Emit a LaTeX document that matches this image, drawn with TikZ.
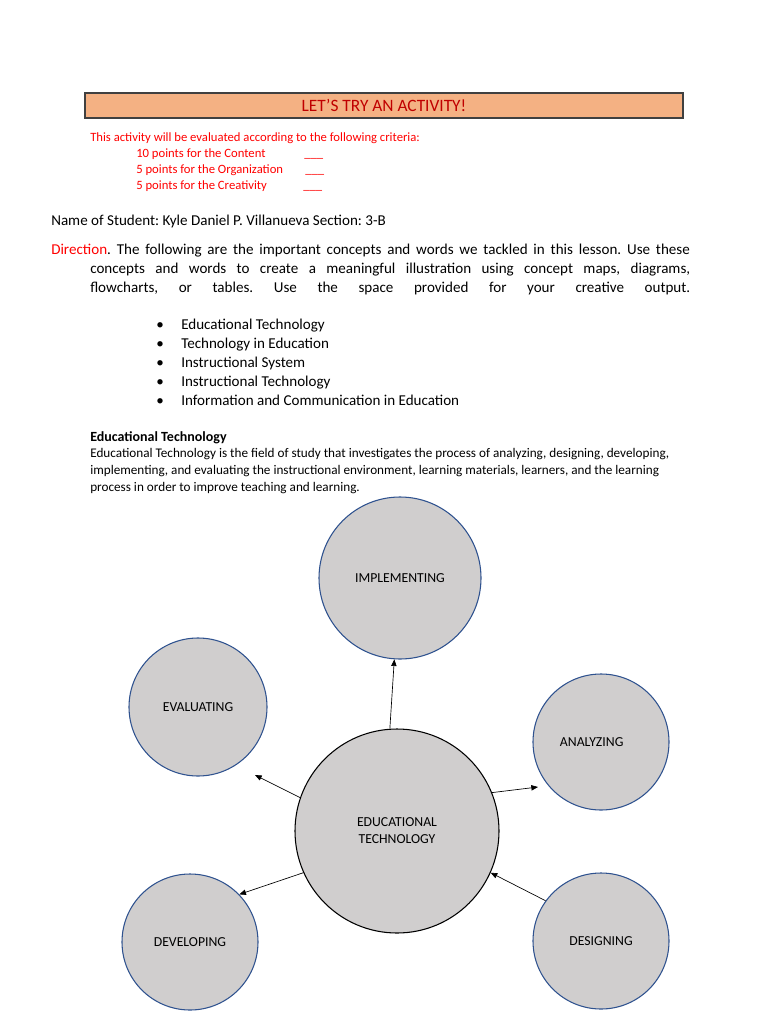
\documentclass[tikz,border=0pt]{standalone}
\usepackage{fontspec}
\setmainfont{Carlito}
\usetikzlibrary{arrows.meta}
\definecolor{bannerfill}{HTML}{F4B183}
\definecolor{bannerred}{HTML}{C00000}
\definecolor{critred}{HTML}{FF0000}
\definecolor{bubblefill}{HTML}{D0CECE}
\definecolor{bubbleline}{HTML}{2F528F}
\frenchspacing

\begin{document}
\begin{tikzpicture}[x=0.75pt,y=-0.75pt,
    bubble/.style={circle,draw=bubbleline,line width=0.8pt,fill=bubblefill,inner sep=0pt,align=center,font=\fontsize{10.3}{12.75}\selectfont},
    hub/.style={bubble,draw=black},
    crit/.style={anchor=base west,inner sep=0pt,text=critred,font=\fontsize{9.5}{11}\selectfont},
    body/.style={anchor=base west,inner sep=0pt,font=\fontsize{11.3}{13}\selectfont},
    para/.style={anchor=base west,inner sep=0pt,font=\fontsize{9.9}{11}\selectfont},
    link/.style={-{Triangle[length=5pt,width=4pt]},line width=0.5pt}]
    \useasboundingbox[fill=white] (0,0) rectangle (768,1024);
    % Banner
    \node[draw=black!75,line width=0.8pt,fill=bannerfill,minimum width=448.5pt,minimum height=18.75pt,inner sep=0pt] (banner) at (384,105.5) {};
    \node[text=bannerred,font=\fontsize{13}{15}\selectfont] (title) at (banner.center) {LET’S TRY AN ACTIVITY!};
    % Criteria
    \node[crit] (crit0) at (90,141) {This activity will be evaluated according to the following criteria:};
    \node[crit] (crit1) at (136,157) {10 points for the Content};
    \node[crit] (crit2) at (136,173) {5 points for the Organization};
    \node[crit] (crit3) at (136,189) {5 points for the Creativity};
    \node[crit] (blank1) at (304,157) {\_\_\_};
    \node[crit] (blank2) at (305,173) {\_\_\_};
    \node[crit] (blank3) at (303,189) {\_\_\_};
    % Student and direction
    \node[body] (student) at (51,225) {Name of Student: Kyle Daniel P. Villanueva Section: 3-B};
    \node[body] (dir1) at (51,254) {\hbox to 479pt{\textcolor{critred}{Direction}. The following are the important concepts and words we tackled in this lesson. Use these}};
    \node[body] (dir2) at (90,273) {\hbox to 450pt{concepts and words to create a meaningful illustration using concept maps, diagrams,}};
    \node[body] (dir3) at (90,292) {\hbox to 450pt{flowcharts, or tables. Use the space provided for your creative output.}};
    % Bullets
    \foreach \y/\txt [count=\i] in {329/Educational Technology,348/Technology in Education,367/Instructional System,386/Instructional Technology,405/Information and Communication in Education}{
        \node[body,anchor=base] (dot\i) at (160,\y) {\textbullet};
        \node[body] (item\i) at (181,\y) {\txt};
    }
    % Definition
    \node[para,font=\fontsize{10.5}{12}\selectfont\bfseries] (defhead) at (90,441) {Educational Technology};
    \node[para] (def1) at (90,457) {Educational Technology is the field of study that investigates the process of analyzing, designing, developing,};
    \node[para] (def2) at (90,474) {implementing, and evaluating the instructional environment, learning materials, learners, and the learning};
    \node[para] (def3) at (90,491) {process in order to improve teaching and learning.};
    % Nodes
    \node[bubble,minimum size=121.5pt] (impl) at (400,578) {IMPLEMENTING};
    \node[bubble,minimum size=103.5pt] (eval) at (198,707) {EVALUATING};
    \node[bubble,minimum size=102pt] (anal) at (601,742) {\hspace*{-14pt}ANALYZING};
    \node[hub,minimum size=153pt] (edu) at (397,831) {EDUCATIONAL\\TECHNOLOGY};
    \node[bubble,minimum size=102pt] (dev) at (190,942) {DEVELOPING};
    \node[bubble,minimum size=102pt] (des) at (601,941) {DESIGNING};
    \coordinate (evaltip) at (255,775);
    \coordinate (analtip) at (538,787);
    % Arrows
    \draw[link] (edu.94) -- (impl.266);
    \draw[link] (edu.161) -- (evaltip);
    \draw[link] (edu.22) -- (analtip);
    \draw[link] (edu.204) -- (dev.44);
    \draw[link] (des.144) -- (edu.336);
\end{tikzpicture}
\end{document}
